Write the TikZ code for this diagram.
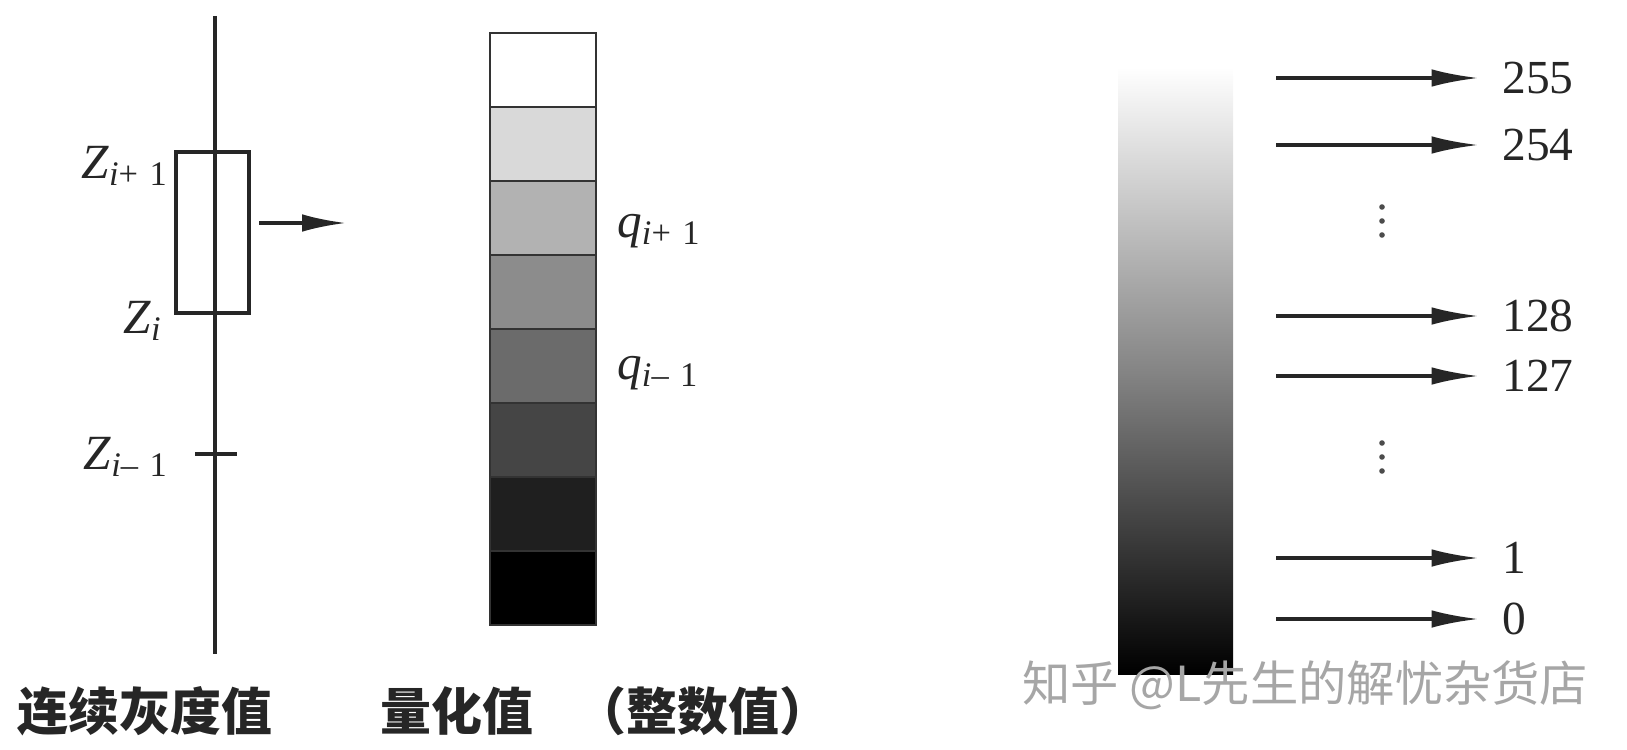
\documentclass[tikz,border=0pt]{standalone}
\usepackage{fontspec}
\setmainfont{Liberation Serif}
\newfontfamily\cjk{Noto Sans CJK SC}
\usetikzlibrary{arrows.meta,positioning}

\begin{document}
\begin{tikzpicture}[x=0.02cm,y=-0.02cm,
  axis/.style={line width=2.2pt,black!85},
  arr/.style={line width=2.1pt,black!85,-{Latex[length=27pt,width=10pt]}},
  numlab/.style={font=\fontsize{27}{29}\selectfont,inner sep=0pt,anchor=west,text=black!85},
  zlab/.style={font=\fontsize{28}{30}\selectfont,inner sep=0pt,text=black!85},
  bottomtext/.style={font=\cjk\bfseries\fontsize{29}{31}\selectfont,inner sep=0pt,text=black!85}]
\useasboundingbox (0,0) rectangle (1627,750);

% continuous grey axis
\coordinate (top) at (215,16);
\coordinate (bot) at (215,654);
\draw[axis] (top) -- (bot);
\node[draw, line width=1.8pt, black!85, inner sep=0pt,
      minimum width=1.46cm, minimum height=3.22cm] (win) at (212.5,232.5) {};
\coordinate (tickl) at (195,454);
\coordinate (tickr) at (237,454);
\draw[axis] (tickl) -- (tickr);
\coordinate (wout) at (259,223);
\coordinate (wend) at (346,223);
\draw[line width=1.9pt,black!85,-{Latex[length=25pt,width=10pt]}] (wout) -- (wend);

\node[zlab, anchor=base east] (z1) at (168,178) {\textit{Z}\textsubscript{\textit{i}+\,\,1}};
\node[zlab, anchor=base east] (z0) at (162,333) {\textit{Z}\textsubscript{\textit{i}}};
\node[zlab, anchor=base east] (z2) at (168,469) {\textit{Z}\textsubscript{\textit{i}--\,\,1}};

% quantised levels
\foreach \k/\g in {0/100,1/15,2/30,3/45,4/58,5/73,6/88,7/100}
{
  \ifnum\k=0
    \draw[line width=1.3pt, black!80, fill=white] (490,{33+74*\k}) rectangle (596,{107+74*\k});
  \else
    \draw[line width=1.3pt, black!80, fill=black!\g] (490,{33+74*\k}) rectangle (596,{107+74*\k});
  \fi
}
\node[zlab, anchor=base west] (q1) at (617,237) {\textit{q}\textsubscript{\textit{i}+\,\,1}};
\node[zlab, anchor=base west] (q2) at (617,379) {\textit{q}\textsubscript{\textit{i}--\,\,1}};

% grey-scale bar
\shade[top color=white, bottom color=black, middle color=black!48] (1118,67) rectangle (1233,674);

\foreach \n/\y in {255/78,254/145,128/316,127/376,1/558,0/619}
{
  \coordinate (s\n) at (1276,\y);
  \node[numlab] (l\n) at (1502,\y) {\n};
  \draw[arr] (s\n) -- ([xshift=-23*0.02cm]l\n.west);
}
\foreach \y in {221,457}
  \foreach \d in {-14,0,14}
    \fill[black!70] (1382,\y+\d) circle (2.8);

% captions
\node[bottomtext] (c1) at (145,711) {连续灰度值};
\node[bottomtext] (c2) at (457,711) {量化值};
\node[bottomtext] (c3) at (703,711) {（整数值）};
\node[font=\cjk\fontsize{27.5}{29}\selectfont, text=black!35, inner sep=0pt, anchor=west] (wm) at (1022,685) {知乎\ @L先生的解忧杂货店};
\end{tikzpicture}
\end{document}
